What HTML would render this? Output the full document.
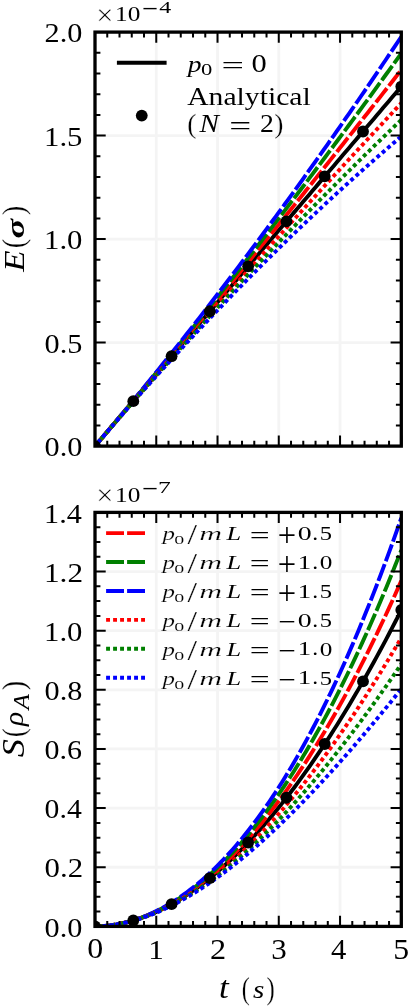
<!DOCTYPE html>
<html lang="en"><head><meta charset="utf-8"><title>Figure</title>
<style>html,body{margin:0;padding:0;background:#fff}svg{display:block}text{font-family:"Liberation Serif","DejaVu Serif",serif;fill:#000}.i{font-style:italic}.b{font-weight:bold}</style></head><body>
<svg width="411" height="1008" viewBox="0 0 411 1008">
<rect width="411" height="1008" fill="#fff"/>
<defs><clipPath id="c0"><rect x="95.0" y="32.1" width="306.3" height="414.0"/></clipPath><clipPath id="c1"><rect x="95.0" y="512.4" width="306.3" height="414.0"/></clipPath></defs>
<g id="axes0">
<g stroke="#f4f4f4" stroke-opacity="1" stroke-width="2.8" fill="none">
<path d="M95.00 32.1V446.1"/>
<path d="M156.26 32.1V446.1"/>
<path d="M217.52 32.1V446.1"/>
<path d="M278.78 32.1V446.1"/>
<path d="M340.04 32.1V446.1"/>
<path d="M401.30 32.1V446.1"/>
<path d="M95.0 446.10H401.3"/>
<path d="M95.0 342.60H401.3"/>
<path d="M95.0 239.10H401.3"/>
<path d="M95.0 135.60H401.3"/>
<path d="M95.0 32.10H401.3"/>
</g>
<g clip-path="url(#c0)" fill="none" stroke-width="3.9">
<path d="M95.00 446.10 L98.06 442.50 L101.13 438.91 L104.19 435.31 L107.25 431.72 L110.31 428.12 L113.38 424.53 L116.44 420.93 L119.50 417.34 L122.57 413.74 L125.63 410.14 L128.69 406.55 L131.76 402.95 L134.82 399.36 L137.88 395.76 L140.94 392.17 L144.01 388.57 L147.07 384.97 L150.13 381.38 L153.20 377.78 L156.26 374.19 L159.32 370.59 L162.39 367.00 L165.45 363.40 L168.51 359.81 L171.57 356.21 L174.64 352.61 L177.70 349.02 L180.76 345.42 L183.83 341.83 L186.89 338.23 L189.95 334.64 L193.02 331.04 L196.08 327.45 L199.14 323.85 L202.20 320.25 L205.27 316.66 L208.33 313.06 L211.39 309.47 L214.46 305.87 L217.52 302.28 L220.58 298.68 L223.65 295.09 L226.71 291.49 L229.77 287.89 L232.84 284.30 L235.90 280.70 L238.96 277.11 L242.02 273.51 L245.09 269.92 L248.15 266.32 L251.21 262.72 L254.28 259.13 L257.34 255.53 L260.40 251.94 L263.47 248.34 L266.53 244.75 L269.59 241.15 L272.65 237.56 L275.72 233.96 L278.78 230.36 L281.84 226.77 L284.91 223.17 L287.97 219.58 L291.03 215.98 L294.10 212.39 L297.16 208.79 L300.22 205.20 L303.28 201.60 L306.35 198.00 L309.41 194.41 L312.47 190.81 L315.54 187.22 L318.60 183.62 L321.66 180.03 L324.73 176.43 L327.79 172.84 L330.85 169.24 L333.91 165.64 L336.98 162.05 L340.04 158.45 L343.10 154.86 L346.17 151.26 L349.23 147.67 L352.29 144.07 L355.36 140.47 L358.42 136.88 L361.48 133.28 L364.54 129.69 L367.61 126.09 L370.67 122.50 L373.73 118.90 L376.80 115.31 L379.86 111.71 L382.92 108.11 L385.99 104.52 L389.05 100.92 L392.11 97.33 L395.17 93.73 L398.24 90.14 L401.30 86.54" stroke="#000" stroke-linecap="square"/>
<path d="M95.00 446.10 L98.06 442.50 L101.13 438.90 L104.19 435.30 L107.25 431.69 L110.31 428.08 L113.38 424.47 L116.44 420.85 L119.50 417.23 L122.57 413.60 L125.63 409.98 L128.69 406.35 L131.76 402.71 L134.82 399.08 L137.88 395.44 L140.94 391.79 L144.01 388.14 L147.07 384.49 L150.13 380.84 L153.20 377.18 L156.26 373.52 L159.32 369.86 L162.39 366.19 L165.45 362.52 L168.51 358.85 L171.57 355.17 L174.64 351.49 L177.70 347.81 L180.76 344.12 L183.83 340.43 L186.89 336.74 L189.95 333.04 L193.02 329.34 L196.08 325.63 L199.14 321.93 L202.20 318.22 L205.27 314.50 L208.33 310.79 L211.39 307.07 L214.46 303.34 L217.52 299.62 L220.58 295.89 L223.65 292.15 L226.71 288.41 L229.77 284.67 L232.84 280.93 L235.90 277.18 L238.96 273.43 L242.02 269.68 L245.09 265.92 L248.15 262.16 L251.21 258.40 L254.28 254.63 L257.34 250.86 L260.40 247.09 L263.47 243.31 L266.53 239.53 L269.59 235.75 L272.65 231.96 L275.72 228.17 L278.78 224.38 L281.84 220.58 L284.91 216.78 L287.97 212.98 L291.03 209.17 L294.10 205.36 L297.16 201.55 L300.22 197.73 L303.28 193.91 L306.35 190.09 L309.41 186.26 L312.47 182.43 L315.54 178.60 L318.60 174.76 L321.66 170.92 L324.73 167.08 L327.79 163.23 L330.85 159.38 L333.91 155.53 L336.98 151.67 L340.04 147.81 L343.10 143.95 L346.17 140.08 L349.23 136.21 L352.29 132.34 L355.36 128.46 L358.42 124.58 L361.48 120.70 L364.54 116.81 L367.61 112.92 L370.67 109.03 L373.73 105.13 L376.80 101.23 L379.86 97.33 L382.92 93.42 L385.99 89.51 L389.05 85.60 L392.11 81.68 L395.17 77.76 L398.24 73.84 L401.30 69.91" stroke="#ff0000" stroke-dasharray="17.9 3.1" stroke-dashoffset="18.1"/>
<path d="M95.00 446.10 L98.06 442.50 L101.13 438.90 L104.19 435.28 L107.25 431.66 L110.31 428.04 L113.38 424.41 L116.44 420.77 L119.50 417.12 L122.57 413.47 L125.63 409.81 L128.69 406.15 L131.76 402.47 L134.82 398.80 L137.88 395.11 L140.94 391.42 L144.01 387.72 L147.07 384.01 L150.13 380.30 L153.20 376.58 L156.26 372.86 L159.32 369.13 L162.39 365.39 L165.45 361.64 L168.51 357.89 L171.57 354.13 L174.64 350.37 L177.70 346.59 L180.76 342.82 L183.83 339.03 L186.89 335.24 L189.95 331.44 L193.02 327.64 L196.08 323.82 L199.14 320.01 L202.20 316.18 L205.27 312.35 L208.33 308.51 L211.39 304.66 L214.46 300.81 L217.52 296.95 L220.58 293.09 L223.65 289.22 L226.71 285.34 L229.77 281.45 L232.84 277.56 L235.90 273.67 L238.96 269.76 L242.02 265.85 L245.09 261.93 L248.15 258.01 L251.21 254.07 L254.28 250.14 L257.34 246.19 L260.40 242.24 L263.47 238.28 L266.53 234.32 L269.59 230.35 L272.65 226.37 L275.72 222.38 L278.78 218.39 L281.84 214.39 L284.91 210.39 L287.97 206.38 L291.03 202.36 L294.10 198.33 L297.16 194.30 L300.22 190.27 L303.28 186.22 L306.35 182.17 L309.41 178.11 L312.47 174.05 L315.54 169.98 L318.60 165.90 L321.66 161.81 L324.73 157.72 L327.79 153.62 L330.85 149.52 L333.91 145.41 L336.98 141.29 L340.04 137.17 L343.10 133.04 L346.17 128.90 L349.23 124.75 L352.29 120.60 L355.36 116.44 L358.42 112.28 L361.48 108.11 L364.54 103.93 L367.61 99.75 L370.67 95.56 L373.73 91.36 L376.80 87.15 L379.86 82.94 L382.92 78.73 L385.99 74.50 L389.05 70.27 L392.11 66.03 L395.17 61.79 L398.24 57.54 L401.30 53.28" stroke="#008000" stroke-dasharray="17.9 3.1" stroke-dashoffset="18.1"/>
<path d="M95.00 446.10 L98.06 442.50 L101.13 438.89 L104.19 435.27 L107.25 431.64 L110.31 428.00 L113.38 424.35 L116.44 420.69 L119.50 417.02 L122.57 413.34 L125.63 409.65 L128.69 405.94 L131.76 402.23 L134.82 398.51 L137.88 394.78 L140.94 391.04 L144.01 387.29 L147.07 383.53 L150.13 379.76 L153.20 375.98 L156.26 372.19 L159.32 368.39 L162.39 364.58 L165.45 360.76 L168.51 356.93 L171.57 353.09 L174.64 349.24 L177.70 345.38 L180.76 341.51 L183.83 337.63 L186.89 333.74 L189.95 329.84 L193.02 325.93 L196.08 322.01 L199.14 318.08 L202.20 314.14 L205.27 310.19 L208.33 306.23 L211.39 302.26 L214.46 298.28 L217.52 294.29 L220.58 290.29 L223.65 286.28 L226.71 282.27 L229.77 278.24 L232.84 274.20 L235.90 270.15 L238.96 266.09 L242.02 262.02 L245.09 257.94 L248.15 253.85 L251.21 249.75 L254.28 245.64 L257.34 241.52 L260.40 237.39 L263.47 233.25 L266.53 229.10 L269.59 224.94 L272.65 220.77 L275.72 216.59 L278.78 212.40 L281.84 208.21 L284.91 204.00 L287.97 199.78 L291.03 195.55 L294.10 191.31 L297.16 187.06 L300.22 182.80 L303.28 178.53 L306.35 174.25 L309.41 169.96 L312.47 165.66 L315.54 161.35 L318.60 157.04 L321.66 152.71 L324.73 148.37 L327.79 144.02 L330.85 139.66 L333.91 135.29 L336.98 130.91 L340.04 126.52 L343.10 122.12 L346.17 117.72 L349.23 113.30 L352.29 108.87 L355.36 104.43 L358.42 99.98 L361.48 95.52 L364.54 91.05 L367.61 86.57 L370.67 82.09 L373.73 77.59 L376.80 73.08 L379.86 68.56 L382.92 64.03 L385.99 59.49 L389.05 54.95 L392.11 50.39 L395.17 45.82 L398.24 41.24 L401.30 36.65" stroke="#0000ff" stroke-dasharray="17.9 3.1" stroke-dashoffset="10.35"/>
<path d="M95.00 446.10 L98.06 442.51 L101.13 438.92 L104.19 435.33 L107.25 431.74 L110.31 428.16 L113.38 424.59 L116.44 421.01 L119.50 417.44 L122.57 413.87 L125.63 410.31 L128.69 406.75 L131.76 403.19 L134.82 399.64 L137.88 396.09 L140.94 392.54 L144.01 389.00 L147.07 385.46 L150.13 381.92 L153.20 378.38 L156.26 374.85 L159.32 371.33 L162.39 367.80 L165.45 364.28 L168.51 360.76 L171.57 357.25 L174.64 353.74 L177.70 350.23 L180.76 346.73 L183.83 343.23 L186.89 339.73 L189.95 336.23 L193.02 332.74 L196.08 329.26 L199.14 325.77 L202.20 322.29 L205.27 318.81 L208.33 315.34 L211.39 311.87 L214.46 308.40 L217.52 304.94 L220.58 301.48 L223.65 298.02 L226.71 294.56 L229.77 291.11 L232.84 287.67 L235.90 284.22 L238.96 280.78 L242.02 277.34 L245.09 273.91 L248.15 270.48 L251.21 267.05 L254.28 263.63 L257.34 260.21 L260.40 256.79 L263.47 253.37 L266.53 249.96 L269.59 246.55 L272.65 243.15 L275.72 239.75 L278.78 236.35 L281.84 232.96 L284.91 229.57 L287.97 226.18 L291.03 222.79 L294.10 219.41 L297.16 216.04 L300.22 212.66 L303.28 209.29 L306.35 205.92 L309.41 202.56 L312.47 199.20 L315.54 195.84 L318.60 192.48 L321.66 189.13 L324.73 185.79 L327.79 182.44 L330.85 179.10 L333.91 175.76 L336.98 172.43 L340.04 169.10 L343.10 165.77 L346.17 162.44 L349.23 159.12 L352.29 155.80 L355.36 152.49 L358.42 149.18 L361.48 145.87 L364.54 142.57 L367.61 139.27 L370.67 135.97 L373.73 132.67 L376.80 129.38 L379.86 126.09 L382.92 122.81 L385.99 119.53 L389.05 116.25 L392.11 112.97 L395.17 109.70 L398.24 106.44 L401.30 103.17" stroke="#ff0000" stroke-dasharray="3.9 3.1" stroke-dashoffset="4.5"/>
<path d="M95.00 446.10 L98.06 442.51 L101.13 438.92 L104.19 435.34 L107.25 431.77 L110.31 428.21 L113.38 424.65 L116.44 421.09 L119.50 417.55 L122.57 414.01 L125.63 410.48 L128.69 406.95 L131.76 403.43 L134.82 399.92 L137.88 396.41 L140.94 392.91 L144.01 389.42 L147.07 385.94 L150.13 382.46 L153.20 378.98 L156.26 375.52 L159.32 372.06 L162.39 368.61 L165.45 365.16 L168.51 361.72 L171.57 358.29 L174.64 354.86 L177.70 351.44 L180.76 348.03 L183.83 344.63 L186.89 341.23 L189.95 337.83 L193.02 334.45 L196.08 331.07 L199.14 327.69 L202.20 324.33 L205.27 320.97 L208.33 317.62 L211.39 314.27 L214.46 310.93 L217.52 307.60 L220.58 304.27 L223.65 300.95 L226.71 297.64 L229.77 294.33 L232.84 291.03 L235.90 287.74 L238.96 284.45 L242.02 281.17 L245.09 277.90 L248.15 274.64 L251.21 271.38 L254.28 268.12 L257.34 264.88 L260.40 261.64 L263.47 258.40 L266.53 255.18 L269.59 251.96 L272.65 248.74 L275.72 245.54 L278.78 242.34 L281.84 239.14 L284.91 235.96 L287.97 232.78 L291.03 229.61 L294.10 226.44 L297.16 223.28 L300.22 220.13 L303.28 216.98 L306.35 213.84 L309.41 210.71 L312.47 207.58 L315.54 204.46 L318.60 201.35 L321.66 198.24 L324.73 195.14 L327.79 192.05 L330.85 188.96 L333.91 185.88 L336.98 182.81 L340.04 179.74 L343.10 176.68 L346.17 173.63 L349.23 170.58 L352.29 167.54 L355.36 164.51 L358.42 161.48 L361.48 158.46 L364.54 155.44 L367.61 152.44 L370.67 149.44 L373.73 146.44 L376.80 143.46 L379.86 140.48 L382.92 137.50 L385.99 134.54 L389.05 131.58 L392.11 128.62 L395.17 125.67 L398.24 122.73 L401.30 119.80" stroke="#008000" stroke-dasharray="3.9 3.1" stroke-dashoffset="4.25"/>
<path d="M95.00 446.10 L98.06 442.51 L101.13 438.93 L104.19 435.36 L107.25 431.80 L110.31 428.25 L113.38 424.71 L116.44 421.18 L119.50 417.65 L122.57 414.14 L125.63 410.64 L128.69 407.15 L131.76 403.67 L134.82 400.20 L137.88 396.74 L140.94 393.29 L144.01 389.85 L147.07 386.42 L150.13 383.00 L153.20 379.58 L156.26 376.18 L159.32 372.79 L162.39 369.41 L165.45 366.04 L168.51 362.68 L171.57 359.33 L174.64 355.99 L177.70 352.66 L180.76 349.33 L183.83 346.02 L186.89 342.72 L189.95 339.43 L193.02 336.15 L196.08 332.88 L199.14 329.62 L202.20 326.37 L205.27 323.12 L208.33 319.89 L211.39 316.67 L214.46 313.46 L217.52 310.26 L220.58 307.07 L223.65 303.89 L226.71 300.71 L229.77 297.55 L232.84 294.40 L235.90 291.26 L238.96 288.13 L242.02 285.01 L245.09 281.89 L248.15 278.79 L251.21 275.70 L254.28 272.62 L257.34 269.55 L260.40 266.49 L263.47 263.43 L266.53 260.39 L269.59 257.36 L272.65 254.34 L275.72 251.33 L278.78 248.32 L281.84 245.33 L284.91 242.35 L287.97 239.38 L291.03 236.42 L294.10 233.47 L297.16 230.52 L300.22 227.59 L303.28 224.67 L306.35 221.76 L309.41 218.85 L312.47 215.96 L315.54 213.08 L318.60 210.21 L321.66 207.35 L324.73 204.49 L327.79 201.65 L330.85 198.82 L333.91 196.00 L336.98 193.18 L340.04 190.38 L343.10 187.59 L346.17 184.81 L349.23 182.03 L352.29 179.27 L355.36 176.52 L358.42 173.78 L361.48 171.05 L364.54 168.32 L367.61 165.61 L370.67 162.91 L373.73 160.21 L376.80 157.53 L379.86 154.86 L382.92 152.20 L385.99 149.54 L389.05 146.90 L392.11 144.27 L395.17 141.65 L398.24 139.03 L401.30 136.43" stroke="#0000ff" stroke-dasharray="3.9 3.1" stroke-dashoffset="2.35"/>
<circle cx="95.00" cy="446.10" r="5.9" fill="#000" stroke="none"/>
<circle cx="133.29" cy="401.16" r="5.9" fill="#000" stroke="none"/>
<circle cx="171.57" cy="356.21" r="5.9" fill="#000" stroke="none"/>
<circle cx="209.86" cy="311.27" r="5.9" fill="#000" stroke="none"/>
<circle cx="248.15" cy="266.32" r="5.9" fill="#000" stroke="none"/>
<circle cx="286.44" cy="221.38" r="5.9" fill="#000" stroke="none"/>
<circle cx="324.73" cy="176.43" r="5.9" fill="#000" stroke="none"/>
<circle cx="363.01" cy="131.49" r="5.9" fill="#000" stroke="none"/>
<circle cx="401.30" cy="86.54" r="5.9" fill="#000" stroke="none"/>
</g>
<g stroke="#000" stroke-width="2.0" fill="none">
<path d="M95.00 446.1v-10.7M95.00 32.1v10.7"/>
<path d="M107.25 446.1v-5.4M107.25 32.1v5.4"/>
<path d="M119.50 446.1v-5.4M119.50 32.1v5.4"/>
<path d="M131.76 446.1v-5.4M131.76 32.1v5.4"/>
<path d="M144.01 446.1v-5.4M144.01 32.1v5.4"/>
<path d="M156.26 446.1v-10.7M156.26 32.1v10.7"/>
<path d="M168.51 446.1v-5.4M168.51 32.1v5.4"/>
<path d="M180.76 446.1v-5.4M180.76 32.1v5.4"/>
<path d="M193.02 446.1v-5.4M193.02 32.1v5.4"/>
<path d="M205.27 446.1v-5.4M205.27 32.1v5.4"/>
<path d="M217.52 446.1v-10.7M217.52 32.1v10.7"/>
<path d="M229.77 446.1v-5.4M229.77 32.1v5.4"/>
<path d="M242.02 446.1v-5.4M242.02 32.1v5.4"/>
<path d="M254.28 446.1v-5.4M254.28 32.1v5.4"/>
<path d="M266.53 446.1v-5.4M266.53 32.1v5.4"/>
<path d="M278.78 446.1v-10.7M278.78 32.1v10.7"/>
<path d="M291.03 446.1v-5.4M291.03 32.1v5.4"/>
<path d="M303.28 446.1v-5.4M303.28 32.1v5.4"/>
<path d="M315.54 446.1v-5.4M315.54 32.1v5.4"/>
<path d="M327.79 446.1v-5.4M327.79 32.1v5.4"/>
<path d="M340.04 446.1v-10.7M340.04 32.1v10.7"/>
<path d="M352.29 446.1v-5.4M352.29 32.1v5.4"/>
<path d="M364.54 446.1v-5.4M364.54 32.1v5.4"/>
<path d="M376.80 446.1v-5.4M376.80 32.1v5.4"/>
<path d="M389.05 446.1v-5.4M389.05 32.1v5.4"/>
<path d="M401.30 446.1v-10.7M401.30 32.1v10.7"/>
<path d="M95.0 446.10h10.7M401.3 446.10h-10.7"/>
<path d="M95.0 425.40h5.4M401.3 425.40h-5.4"/>
<path d="M95.0 404.70h5.4M401.3 404.70h-5.4"/>
<path d="M95.0 384.00h5.4M401.3 384.00h-5.4"/>
<path d="M95.0 363.30h5.4M401.3 363.30h-5.4"/>
<path d="M95.0 342.60h10.7M401.3 342.60h-10.7"/>
<path d="M95.0 321.90h5.4M401.3 321.90h-5.4"/>
<path d="M95.0 301.20h5.4M401.3 301.20h-5.4"/>
<path d="M95.0 280.50h5.4M401.3 280.50h-5.4"/>
<path d="M95.0 259.80h5.4M401.3 259.80h-5.4"/>
<path d="M95.0 239.10h10.7M401.3 239.10h-10.7"/>
<path d="M95.0 218.40h5.4M401.3 218.40h-5.4"/>
<path d="M95.0 197.70h5.4M401.3 197.70h-5.4"/>
<path d="M95.0 177.00h5.4M401.3 177.00h-5.4"/>
<path d="M95.0 156.30h5.4M401.3 156.30h-5.4"/>
<path d="M95.0 135.60h10.7M401.3 135.60h-10.7"/>
<path d="M95.0 114.90h5.4M401.3 114.90h-5.4"/>
<path d="M95.0 94.20h5.4M401.3 94.20h-5.4"/>
<path d="M95.0 73.50h5.4M401.3 73.50h-5.4"/>
<path d="M95.0 52.80h5.4M401.3 52.80h-5.4"/>
<path d="M95.0 32.10h10.7M401.3 32.10h-10.7"/>
</g>
<rect x="95.0" y="32.1" width="306.3" height="414.0" fill="none" stroke="#000" stroke-width="3.3"/>
</g>
<g id="axes1">
<g stroke="#f4f4f4" stroke-opacity="1" stroke-width="2.8" fill="none">
<path d="M95.00 512.4V926.4"/>
<path d="M156.26 512.4V926.4"/>
<path d="M217.52 512.4V926.4"/>
<path d="M278.78 512.4V926.4"/>
<path d="M340.04 512.4V926.4"/>
<path d="M401.30 512.4V926.4"/>
<path d="M95.0 926.40H401.3"/>
<path d="M95.0 867.26H401.3"/>
<path d="M95.0 808.11H401.3"/>
<path d="M95.0 748.97H401.3"/>
<path d="M95.0 689.83H401.3"/>
<path d="M95.0 630.69H401.3"/>
<path d="M95.0 571.54H401.3"/>
<path d="M95.0 512.40H401.3"/>
</g>
<g clip-path="url(#c1)" fill="none" stroke-width="3.9">
<path d="M95.00 926.40 L98.06 926.35 L101.13 926.22 L104.19 926.02 L107.25 925.73 L110.31 925.38 L113.38 924.95 L116.44 924.46 L119.50 923.89 L122.57 923.25 L125.63 922.55 L128.69 921.78 L131.76 920.94 L134.82 920.04 L137.88 919.07 L140.94 918.03 L144.01 916.93 L147.07 915.77 L150.13 914.54 L153.20 913.25 L156.26 911.89 L159.32 910.47 L162.39 908.98 L165.45 907.43 L168.51 905.82 L171.57 904.15 L174.64 902.42 L177.70 900.62 L180.76 898.76 L183.83 896.84 L186.89 894.85 L189.95 892.81 L193.02 890.70 L196.08 888.54 L199.14 886.31 L202.20 884.02 L205.27 881.67 L208.33 879.26 L211.39 876.79 L214.46 874.26 L217.52 871.67 L220.58 869.02 L223.65 866.31 L226.71 863.54 L229.77 860.71 L232.84 857.83 L235.90 854.88 L238.96 851.87 L242.02 848.81 L245.09 845.68 L248.15 842.50 L251.21 839.25 L254.28 835.95 L257.34 832.59 L260.40 829.17 L263.47 825.70 L266.53 822.16 L269.59 818.57 L272.65 814.91 L275.72 811.20 L278.78 807.44 L281.84 803.61 L284.91 799.73 L287.97 795.78 L291.03 791.79 L294.10 787.73 L297.16 783.61 L300.22 779.44 L303.28 775.21 L306.35 770.93 L309.41 766.58 L312.47 762.18 L315.54 757.73 L318.60 753.21 L321.66 748.64 L324.73 744.01 L327.79 739.33 L330.85 734.58 L333.91 729.78 L336.98 724.93 L340.04 720.02 L343.10 715.05 L346.17 710.02 L349.23 704.94 L352.29 699.80 L355.36 694.61 L358.42 689.36 L361.48 684.05 L364.54 678.69 L367.61 673.27 L370.67 667.80 L373.73 662.27 L376.80 656.68 L379.86 651.04 L382.92 645.34 L385.99 639.59 L389.05 633.78 L392.11 627.91 L395.17 621.99 L398.24 616.02 L401.30 609.99" stroke="#000" stroke-linecap="square"/>
<path d="M95.00 926.40 L98.06 926.35 L101.13 926.22 L104.19 926.02 L107.25 925.73 L110.31 925.37 L113.38 924.95 L116.44 924.44 L119.50 923.87 L122.57 923.23 L125.63 922.52 L128.69 921.74 L131.76 920.88 L134.82 919.97 L137.88 918.98 L140.94 917.92 L144.01 916.80 L147.07 915.61 L150.13 914.35 L153.20 913.02 L156.26 911.63 L159.32 910.16 L162.39 908.64 L165.45 907.04 L168.51 905.38 L171.57 903.65 L174.64 901.85 L177.70 899.99 L180.76 898.06 L183.83 896.06 L186.89 894.00 L189.95 891.86 L193.02 889.67 L196.08 887.40 L199.14 885.07 L202.20 882.67 L205.27 880.21 L208.33 877.68 L211.39 875.08 L214.46 872.41 L217.52 869.68 L220.58 866.88 L223.65 864.02 L226.71 861.08 L229.77 858.08 L232.84 855.02 L235.90 851.88 L238.96 848.68 L242.02 845.41 L245.09 842.07 L248.15 838.67 L251.21 835.20 L254.28 831.66 L257.34 828.05 L260.40 824.38 L263.47 820.64 L266.53 816.83 L269.59 812.95 L272.65 809.01 L275.72 804.99 L278.78 800.91 L281.84 796.76 L284.91 792.54 L287.97 788.26 L291.03 783.90 L294.10 779.48 L297.16 774.99 L300.22 770.43 L303.28 765.80 L306.35 761.10 L309.41 756.33 L312.47 751.50 L315.54 746.59 L318.60 741.62 L321.66 736.57 L324.73 731.46 L327.79 726.28 L330.85 721.02 L333.91 715.70 L336.98 710.31 L340.04 704.85 L343.10 699.32 L346.17 693.71 L349.23 688.04 L352.29 682.30 L355.36 676.49 L358.42 670.60 L361.48 664.65 L364.54 658.62 L367.61 652.53 L370.67 646.36 L373.73 640.12 L376.80 633.82 L379.86 627.44 L382.92 620.98 L385.99 614.46 L389.05 607.87 L392.11 601.20 L395.17 594.46 L398.24 587.65 L401.30 580.77" stroke="#ff0000" stroke-dasharray="17.9 3.1" stroke-dashoffset="18.35"/>
<path d="M95.00 926.40 L98.06 926.35 L101.13 926.22 L104.19 926.01 L107.25 925.73 L110.31 925.37 L113.38 924.94 L116.44 924.43 L119.50 923.85 L122.57 923.20 L125.63 922.48 L128.69 921.69 L131.76 920.83 L134.82 919.89 L137.88 918.88 L140.94 917.81 L144.01 916.66 L147.07 915.44 L150.13 914.15 L153.20 912.79 L156.26 911.36 L159.32 909.86 L162.39 908.28 L165.45 906.64 L168.51 904.92 L171.57 903.14 L174.64 901.28 L177.70 899.35 L180.76 897.34 L183.83 895.27 L186.89 893.12 L189.95 890.90 L193.02 888.61 L196.08 886.25 L199.14 883.81 L202.20 881.30 L205.27 878.72 L208.33 876.06 L211.39 873.33 L214.46 870.53 L217.52 867.65 L220.58 864.70 L223.65 861.67 L226.71 858.57 L229.77 855.39 L232.84 852.14 L235.90 848.81 L238.96 845.41 L242.02 841.93 L245.09 838.38 L248.15 834.75 L251.21 831.04 L254.28 827.26 L257.34 823.40 L260.40 819.46 L263.47 815.44 L266.53 811.35 L269.59 807.18 L272.65 802.93 L275.72 798.60 L278.78 794.19 L281.84 789.70 L284.91 785.14 L287.97 780.49 L291.03 775.77 L294.10 770.96 L297.16 766.07 L300.22 761.11 L303.28 756.06 L306.35 750.93 L309.41 745.72 L312.47 740.43 L315.54 735.06 L318.60 729.60 L321.66 724.06 L324.73 718.44 L327.79 712.73 L330.85 706.94 L333.91 701.07 L336.98 695.12 L340.04 689.08 L343.10 682.95 L346.17 676.74 L349.23 670.44 L352.29 664.06 L355.36 657.60 L358.42 651.05 L361.48 644.41 L364.54 637.68 L367.61 630.87 L370.67 623.97 L373.73 616.98 L376.80 609.91 L379.86 602.74 L382.92 595.49 L385.99 588.15 L389.05 580.72 L392.11 573.20 L395.17 565.60 L398.24 557.90 L401.30 550.11" stroke="#008000" stroke-dasharray="17.9 3.1" stroke-dashoffset="19.05"/>
<path d="M95.00 926.40 L98.06 926.35 L101.13 926.22 L104.19 926.01 L107.25 925.73 L110.31 925.37 L113.38 924.93 L116.44 924.42 L119.50 923.84 L122.57 923.18 L125.63 922.45 L128.69 921.64 L131.76 920.77 L134.82 919.81 L137.88 918.79 L140.94 917.69 L144.01 916.52 L147.07 915.27 L150.13 913.95 L153.20 912.56 L156.26 911.09 L159.32 909.55 L162.39 907.93 L165.45 906.24 L168.51 904.47 L171.57 902.62 L174.64 900.70 L177.70 898.70 L180.76 896.62 L183.83 894.47 L186.89 892.24 L189.95 889.93 L193.02 887.54 L196.08 885.08 L199.14 882.53 L202.20 879.91 L205.27 877.20 L208.33 874.42 L211.39 871.55 L214.46 868.61 L217.52 865.58 L220.58 862.47 L223.65 859.28 L226.71 856.00 L229.77 852.65 L232.84 849.20 L235.90 845.68 L238.96 842.07 L242.02 838.38 L245.09 834.60 L248.15 830.73 L251.21 826.78 L254.28 822.74 L257.34 818.62 L260.40 814.41 L263.47 810.11 L266.53 805.72 L269.59 801.24 L272.65 796.67 L275.72 792.02 L278.78 787.27 L281.84 782.44 L284.91 777.51 L287.97 772.49 L291.03 767.38 L294.10 762.17 L297.16 756.88 L300.22 751.49 L303.28 746.00 L306.35 740.43 L309.41 734.75 L312.47 728.98 L315.54 723.12 L318.60 717.16 L321.66 711.10 L324.73 704.95 L327.79 698.70 L330.85 692.35 L333.91 685.90 L336.98 679.35 L340.04 672.70 L343.10 665.95 L346.17 659.10 L349.23 652.15 L352.29 645.10 L355.36 637.94 L358.42 630.69 L361.48 623.33 L364.54 615.86 L367.61 608.29 L370.67 600.62 L373.73 592.84 L376.80 584.95 L379.86 576.96 L382.92 568.87 L385.99 560.66 L389.05 552.35 L392.11 543.92 L395.17 535.39 L398.24 526.75 L401.30 518.00" stroke="#0000ff" stroke-dasharray="17.9 3.1" stroke-dashoffset="13.55"/>
<path d="M95.00 926.40 L98.06 926.35 L101.13 926.22 L104.19 926.02 L107.25 925.74 L110.31 925.38 L113.38 924.96 L116.44 924.47 L119.50 923.91 L122.57 923.28 L125.63 922.59 L128.69 921.83 L131.76 921.00 L134.82 920.11 L137.88 919.16 L140.94 918.15 L144.01 917.07 L147.07 915.93 L150.13 914.73 L153.20 913.47 L156.26 912.15 L159.32 910.77 L162.39 909.33 L165.45 907.82 L168.51 906.27 L171.57 904.65 L174.64 902.97 L177.70 901.24 L180.76 899.45 L183.83 897.60 L186.89 895.70 L189.95 893.74 L193.02 891.72 L196.08 889.65 L199.14 887.53 L202.20 885.35 L205.27 883.11 L208.33 880.82 L211.39 878.47 L214.46 876.08 L217.52 873.62 L220.58 871.12 L223.65 868.56 L226.71 865.95 L229.77 863.29 L232.84 860.57 L235.90 857.81 L238.96 854.99 L242.02 852.12 L245.09 849.20 L248.15 846.23 L251.21 843.20 L254.28 840.13 L257.34 837.01 L260.40 833.84 L263.47 830.61 L266.53 827.34 L269.59 824.02 L272.65 820.65 L275.72 817.23 L278.78 813.77 L281.84 810.25 L284.91 806.69 L287.97 803.08 L291.03 799.42 L294.10 795.71 L297.16 791.96 L300.22 788.16 L303.28 784.31 L306.35 780.42 L309.41 776.48 L312.47 772.49 L315.54 768.46 L318.60 764.38 L321.66 760.26 L324.73 756.09 L327.79 751.88 L330.85 747.62 L333.91 743.32 L336.98 738.97 L340.04 734.58 L343.10 730.15 L346.17 725.67 L349.23 721.15 L352.29 716.58 L355.36 711.97 L358.42 707.32 L361.48 702.62 L364.54 697.88 L367.61 693.10 L370.67 688.28 L373.73 683.41 L376.80 678.50 L379.86 673.56 L382.92 668.56 L385.99 663.53 L389.05 658.46 L392.11 653.34 L395.17 648.19 L398.24 642.99 L401.30 637.75" stroke="#ff0000" stroke-dasharray="3.9 3.1" stroke-dashoffset="4.85"/>
<path d="M95.00 926.40 L98.06 926.35 L101.13 926.22 L104.19 926.02 L107.25 925.74 L110.31 925.39 L113.38 924.97 L116.44 924.48 L119.50 923.93 L122.57 923.31 L125.63 922.62 L128.69 921.87 L131.76 921.06 L134.82 920.19 L137.88 919.25 L140.94 918.26 L144.01 917.20 L147.07 916.09 L150.13 914.92 L153.20 913.69 L156.26 912.41 L159.32 911.06 L162.39 909.66 L165.45 908.21 L168.51 906.70 L171.57 905.14 L174.64 903.52 L177.70 901.85 L180.76 900.13 L183.83 898.36 L186.89 896.53 L189.95 894.66 L193.02 892.73 L196.08 890.75 L199.14 888.72 L202.20 886.65 L205.27 884.52 L208.33 882.34 L211.39 880.12 L214.46 877.85 L217.52 875.54 L220.58 873.17 L223.65 870.76 L226.71 868.31 L229.77 865.80 L232.84 863.26 L235.90 860.67 L238.96 858.03 L242.02 855.35 L245.09 852.63 L248.15 849.86 L251.21 847.05 L254.28 844.20 L257.34 841.30 L260.40 838.37 L263.47 835.39 L266.53 832.37 L269.59 829.32 L272.65 826.22 L275.72 823.08 L278.78 819.90 L281.84 816.68 L284.91 813.43 L287.97 810.13 L291.03 806.80 L294.10 803.43 L297.16 800.02 L300.22 796.57 L303.28 793.09 L306.35 789.57 L309.41 786.02 L312.47 782.42 L315.54 778.80 L318.60 775.14 L321.66 771.44 L324.73 767.71 L327.79 763.94 L330.85 760.14 L333.91 756.31 L336.98 752.44 L340.04 748.54 L343.10 744.61 L346.17 740.65 L349.23 736.65 L352.29 732.62 L355.36 728.56 L358.42 724.47 L361.48 720.35 L364.54 716.20 L367.61 712.01 L370.67 707.80 L373.73 703.56 L376.80 699.28 L379.86 694.98 L382.92 690.65 L385.99 686.29 L389.05 681.91 L392.11 677.49 L395.17 673.05 L398.24 668.58 L401.30 664.08" stroke="#008000" stroke-dasharray="3.9 3.1" stroke-dashoffset="4.85"/>
<path d="M95.00 926.40 L98.06 926.35 L101.13 926.22 L104.19 926.02 L107.25 925.74 L110.31 925.39 L113.38 924.98 L116.44 924.49 L119.50 923.94 L122.57 923.33 L125.63 922.65 L128.69 921.92 L131.76 921.12 L134.82 920.26 L137.88 919.34 L140.94 918.37 L144.01 917.34 L147.07 916.25 L150.13 915.11 L153.20 913.91 L156.26 912.66 L159.32 911.36 L162.39 910.00 L165.45 908.59 L168.51 907.13 L171.57 905.62 L174.64 904.07 L177.70 902.46 L180.76 900.80 L183.83 899.10 L186.89 897.35 L189.95 895.56 L193.02 893.71 L196.08 891.83 L199.14 889.90 L202.20 887.92 L205.27 885.90 L208.33 883.84 L211.39 881.74 L214.46 879.59 L217.52 877.41 L220.58 875.18 L223.65 872.91 L226.71 870.61 L229.77 868.26 L232.84 865.88 L235.90 863.45 L238.96 861.00 L242.02 858.50 L245.09 855.97 L248.15 853.40 L251.21 850.79 L254.28 848.15 L257.34 845.48 L260.40 842.77 L263.47 840.03 L266.53 837.26 L269.59 834.45 L272.65 831.61 L275.72 828.74 L278.78 825.84 L281.84 822.90 L284.91 819.94 L287.97 816.95 L291.03 813.93 L294.10 810.87 L297.16 807.79 L300.22 804.68 L303.28 801.55 L306.35 798.39 L309.41 795.19 L312.47 791.98 L315.54 788.74 L318.60 785.47 L321.66 782.17 L324.73 778.85 L327.79 775.51 L330.85 772.14 L333.91 768.75 L336.98 765.34 L340.04 761.90 L343.10 758.44 L346.17 754.96 L349.23 751.46 L352.29 747.94 L355.36 744.39 L358.42 740.82 L361.48 737.24 L364.54 733.63 L367.61 730.01 L370.67 726.36 L373.73 722.70 L376.80 719.02 L379.86 715.32 L382.92 711.60 L385.99 707.87 L389.05 704.12 L392.11 700.35 L395.17 696.57 L398.24 692.77 L401.30 688.95" stroke="#0000ff" stroke-dasharray="3.9 3.1" stroke-dashoffset="5.65"/>
<circle cx="95.00" cy="926.40" r="5.9" fill="#000" stroke="none"/>
<circle cx="133.29" cy="920.50" r="5.9" fill="#000" stroke="none"/>
<circle cx="171.57" cy="904.15" r="5.9" fill="#000" stroke="none"/>
<circle cx="209.86" cy="878.04" r="5.9" fill="#000" stroke="none"/>
<circle cx="248.15" cy="842.50" r="5.9" fill="#000" stroke="none"/>
<circle cx="286.44" cy="797.76" r="5.9" fill="#000" stroke="none"/>
<circle cx="324.73" cy="744.01" r="5.9" fill="#000" stroke="none"/>
<circle cx="363.01" cy="681.38" r="5.9" fill="#000" stroke="none"/>
<circle cx="401.30" cy="609.99" r="5.9" fill="#000" stroke="none"/>
</g>
<g stroke="#000" stroke-width="2.0" fill="none">
<path d="M95.00 926.4v-10.7M95.00 512.4v10.7"/>
<path d="M107.25 926.4v-5.4M107.25 512.4v5.4"/>
<path d="M119.50 926.4v-5.4M119.50 512.4v5.4"/>
<path d="M131.76 926.4v-5.4M131.76 512.4v5.4"/>
<path d="M144.01 926.4v-5.4M144.01 512.4v5.4"/>
<path d="M156.26 926.4v-10.7M156.26 512.4v10.7"/>
<path d="M168.51 926.4v-5.4M168.51 512.4v5.4"/>
<path d="M180.76 926.4v-5.4M180.76 512.4v5.4"/>
<path d="M193.02 926.4v-5.4M193.02 512.4v5.4"/>
<path d="M205.27 926.4v-5.4M205.27 512.4v5.4"/>
<path d="M217.52 926.4v-10.7M217.52 512.4v10.7"/>
<path d="M229.77 926.4v-5.4M229.77 512.4v5.4"/>
<path d="M242.02 926.4v-5.4M242.02 512.4v5.4"/>
<path d="M254.28 926.4v-5.4M254.28 512.4v5.4"/>
<path d="M266.53 926.4v-5.4M266.53 512.4v5.4"/>
<path d="M278.78 926.4v-10.7M278.78 512.4v10.7"/>
<path d="M291.03 926.4v-5.4M291.03 512.4v5.4"/>
<path d="M303.28 926.4v-5.4M303.28 512.4v5.4"/>
<path d="M315.54 926.4v-5.4M315.54 512.4v5.4"/>
<path d="M327.79 926.4v-5.4M327.79 512.4v5.4"/>
<path d="M340.04 926.4v-10.7M340.04 512.4v10.7"/>
<path d="M352.29 926.4v-5.4M352.29 512.4v5.4"/>
<path d="M364.54 926.4v-5.4M364.54 512.4v5.4"/>
<path d="M376.80 926.4v-5.4M376.80 512.4v5.4"/>
<path d="M389.05 926.4v-5.4M389.05 512.4v5.4"/>
<path d="M401.30 926.4v-10.7M401.30 512.4v10.7"/>
<path d="M95.0 926.40h10.7M401.3 926.40h-10.7"/>
<path d="M95.0 911.61h5.4M401.3 911.61h-5.4"/>
<path d="M95.0 896.83h5.4M401.3 896.83h-5.4"/>
<path d="M95.0 882.04h5.4M401.3 882.04h-5.4"/>
<path d="M95.0 867.26h10.7M401.3 867.26h-10.7"/>
<path d="M95.0 852.47h5.4M401.3 852.47h-5.4"/>
<path d="M95.0 837.69h5.4M401.3 837.69h-5.4"/>
<path d="M95.0 822.90h5.4M401.3 822.90h-5.4"/>
<path d="M95.0 808.11h10.7M401.3 808.11h-10.7"/>
<path d="M95.0 793.33h5.4M401.3 793.33h-5.4"/>
<path d="M95.0 778.54h5.4M401.3 778.54h-5.4"/>
<path d="M95.0 763.76h5.4M401.3 763.76h-5.4"/>
<path d="M95.0 748.97h10.7M401.3 748.97h-10.7"/>
<path d="M95.0 734.19h5.4M401.3 734.19h-5.4"/>
<path d="M95.0 719.40h5.4M401.3 719.40h-5.4"/>
<path d="M95.0 704.61h5.4M401.3 704.61h-5.4"/>
<path d="M95.0 689.83h10.7M401.3 689.83h-10.7"/>
<path d="M95.0 675.04h5.4M401.3 675.04h-5.4"/>
<path d="M95.0 660.26h5.4M401.3 660.26h-5.4"/>
<path d="M95.0 645.47h5.4M401.3 645.47h-5.4"/>
<path d="M95.0 630.69h10.7M401.3 630.69h-10.7"/>
<path d="M95.0 615.90h5.4M401.3 615.90h-5.4"/>
<path d="M95.0 601.11h5.4M401.3 601.11h-5.4"/>
<path d="M95.0 586.33h5.4M401.3 586.33h-5.4"/>
<path d="M95.0 571.54h10.7M401.3 571.54h-10.7"/>
<path d="M95.0 556.76h5.4M401.3 556.76h-5.4"/>
<path d="M95.0 541.97h5.4M401.3 541.97h-5.4"/>
<path d="M95.0 527.19h5.4M401.3 527.19h-5.4"/>
<path d="M95.0 512.40h10.7M401.3 512.40h-10.7"/>
</g>
<rect x="95.0" y="512.4" width="306.3" height="414.0" fill="none" stroke="#000" stroke-width="3.3"/>
</g>
<g id="legend-handles" fill="none">
<path d="M116.9 62.8H166.6" stroke="#000" stroke-width="3.9"/>
<circle cx="141.75" cy="115.6" r="5.9" fill="#000"/>
<path d="M106.1 533.10H145.3" stroke="#ff0000" stroke-width="3.9" stroke-dasharray="17.9 3.1"/>
<path d="M106.1 562.02H145.3" stroke="#008000" stroke-width="3.9" stroke-dasharray="17.9 3.1"/>
<path d="M106.1 590.94H145.3" stroke="#0000ff" stroke-width="3.9" stroke-dasharray="17.9 3.1"/>
<path d="M106.1 619.86H145.3" stroke="#ff0000" stroke-width="3.9" stroke-dasharray="3.9 3.1"/>
<path d="M106.1 648.78H145.3" stroke="#008000" stroke-width="3.9" stroke-dasharray="3.9 3.1"/>
<path d="M106.1 677.70H145.3" stroke="#0000ff" stroke-width="3.9" stroke-dasharray="3.9 3.1"/>
</g>
<g id="labels">
<g><text font-size="27.91" transform="translate(44.59 456.24) scale(1.0841 1)">0.0</text></g>
<g><text font-size="27.91" transform="translate(44.59 352.74) scale(1.0841 1)">0.5</text></g>
<g><text font-size="27.50" transform="translate(44.04 249.25) scale(1.1169 1)">1.0</text></g>
<g><text font-size="27.91" transform="translate(44.04 146.02) scale(1.1005 1)">1.5</text></g>
<g><text font-size="27.91" transform="translate(44.59 42.24) scale(1.0841 1)">2.0</text></g>
<g><text font-size="27.91" transform="translate(44.59 936.54) scale(1.0841 1)">0.0</text></g>
<g><text font-size="27.91" transform="translate(44.57 877.40) scale(1.1029 1)">0.2</text></g>
<g><text font-size="27.91" transform="translate(44.61 818.26) scale(1.0658 1)">0.4</text></g>
<g><text font-size="27.91" transform="translate(44.60 759.11) scale(1.0749 1)">0.6</text></g>
<g><text font-size="27.91" transform="translate(44.59 699.97) scale(1.0841 1)">0.8</text></g>
<g><text font-size="27.50" transform="translate(44.04 640.84) scale(1.1169 1)">1.0</text></g>
<g><text font-size="27.91" transform="translate(43.99 581.96) scale(1.1205 1)">1.2</text></g>
<g><text font-size="27.91" transform="translate(44.08 522.82) scale(1.0812 1)">1.4</text></g>
<g><text font-size="28.66" transform="translate(87.32 958.43) scale(1.1133 1)">0</text></g>
<g><text font-size="28.33" transform="translate(148.31 958.50) scale(1.0992 1)">1</text></g>
<g><text font-size="28.77" transform="translate(210.08 958.50) scale(1.1210 1)">2</text></g>
<g><text font-size="29.09" transform="translate(271.18 958.71) scale(1.0648 1)">3</text></g>
<g><text font-size="28.77" transform="translate(331.08 958.50) scale(1.0654 1)">4</text></g>
<g><text font-size="29.09" transform="translate(393.34 958.71) scale(1.0914 1)">5</text></g>
<g><text class="i" font-size="31.93" transform="translate(219.10 998.18) scale(1.0962 1)">t </text><text stroke="#fff" stroke-width="0.25" font-size="31.44" transform="translate(241.73 998.80) scale(0.7706 1)">(</text><text class="i" font-size="26.25" transform="translate(252.91 998.24) scale(1.1102 1)">s</text><text stroke="#fff" stroke-width="0.25" font-size="31.44" transform="translate(266.46 998.80) scale(0.7828 1)">)</text></g>
<g><text stroke="#fff" stroke-width="0.35" font-size="29.00" transform="translate(96.36 25.17) scale(1.0517 1)">×</text><text font-size="21.62" transform="translate(115.02 21.27) scale(1.1698 1)">10</text><text font-size="28.30" transform="translate(142.29 17.78) scale(1.0000 1)">−</text><text font-size="17.38" transform="translate(159.32 12.90) scale(1.3755 1)">4</text></g>
<g><text stroke="#fff" stroke-width="0.35" font-size="29.00" transform="translate(96.36 505.47) scale(1.0517 1)">×</text><text font-size="21.62" transform="translate(115.02 501.57) scale(1.1698 1)">10</text><text font-size="28.30" transform="translate(142.29 498.08) scale(1.0000 1)">−</text><text font-size="17.38" transform="translate(158.02 493.20) scale(1.4668 1)">7</text></g>
<g transform="translate(24 272) rotate(-90)"><text class="i" font-size="30.46" transform="translate(0.35 0.00) scale(1.1490 1)">E</text><text stroke="#fff" stroke-width="0.25" font-size="31.78" transform="translate(23.78 0.23) scale(0.8835 1)">(</text><text class="i b" font-size="26.04" transform="translate(33.50 -0.26) scale(1.4058 1)">σ</text><text stroke="#fff" stroke-width="0.25" font-size="31.78" transform="translate(56.63 0.23) scale(0.9077 1)">)</text></g>
<g transform="translate(24 756.8) rotate(-90)"><text class="i" font-size="30.75" transform="translate(-0.36 -0.31) scale(1.1833 1)">S</text><text stroke="#fff" stroke-width="0.25" font-size="31.78" transform="translate(19.61 0.23) scale(0.8593 1)">(</text><text class="i" font-size="27.21" transform="translate(30.79 -0.51) scale(1.0792 1)">ρ</text><text class="i" font-size="22.77" transform="translate(47.27 4.63) scale(1.1179 1)">A</text><text stroke="#fff" stroke-width="0.25" font-size="31.78" transform="translate(66.55 0.23) scale(0.8956 1)">)</text></g>
<g><text class="i" font-size="23.68" transform="translate(187.75 71.53) scale(1.1635 1)">p</text><text font-size="17.31" transform="translate(201.00 75.35) scale(1.3064 1)">0 </text><text font-size="26.00" transform="translate(221.61 73.86) scale(1.5303 1)">= </text><text font-size="25.07" transform="translate(251.38 71.60) scale(1.2154 1)">0</text></g>
<g><text font-size="24.78" transform="translate(187.20 105.10) scale(1.1971 1)">Analytical</text></g>
<g><text stroke="#fff" stroke-width="0.25" font-size="27.56" transform="translate(187.19 132.61) scale(1.0050 1)">(</text><text class="i" font-size="26.00" transform="translate(199.59 132.30) scale(1.1218 1)">N </text><text font-size="28.00" transform="translate(229.25 135.48) scale(1.3906 1)">= </text><text font-size="25.54" transform="translate(259.89 132.20) scale(1.0866 1)">2</text><text stroke="#fff" stroke-width="0.25" font-size="27.56" transform="translate(274.17 132.61) scale(1.0050 1)">)</text></g>
<g><text class="i" stroke="#fff" stroke-width="0.15" font-size="17.94" transform="translate(162.59 540.03) scale(1.3882 1)">p</text><text stroke="#fff" stroke-width="0.10" font-size="13.28" transform="translate(174.30 544.43) scale(1.5056 1)">0</text><text stroke="#fff" stroke-width="0.15" font-size="29.09" transform="translate(187.40 544.41) scale(1.1786 1)">/</text><text class="i" stroke="#fff" stroke-width="0.20" font-size="17.87" transform="translate(199.24 540.00) scale(1.7660 1)">m</text><text class="i" font-size="18.46" transform="translate(226.46 539.90) scale(1.4271 1)">L </text><text font-size="22.40" transform="translate(249.63 542.50) scale(1.5767 1)">= </text><text font-size="34.22" transform="translate(277.67 546.26) scale(0.9512 1)">+</text><text font-size="18.96" transform="translate(297.79 539.82) scale(1.4696 1)">0</text><text font-size="20.83" transform="translate(312.35 539.79) scale(1.1345 1)">.</text><text font-size="18.94" transform="translate(319.83 540.01) scale(1.2936 1)">5</text></g>
<g><text class="i" stroke="#fff" stroke-width="0.15" font-size="17.94" transform="translate(162.59 568.95) scale(1.3882 1)">p</text><text stroke="#fff" stroke-width="0.10" font-size="13.28" transform="translate(174.30 573.35) scale(1.5056 1)">0</text><text stroke="#fff" stroke-width="0.15" font-size="29.09" transform="translate(187.40 573.33) scale(1.1786 1)">/</text><text class="i" stroke="#fff" stroke-width="0.20" font-size="17.87" transform="translate(199.24 568.92) scale(1.7660 1)">m</text><text class="i" font-size="18.46" transform="translate(226.46 568.82) scale(1.4271 1)">L </text><text font-size="22.40" transform="translate(249.63 571.42) scale(1.5767 1)">= </text><text font-size="34.22" transform="translate(277.67 575.18) scale(0.9512 1)">+</text><text font-size="18.48" transform="translate(297.78 568.72) scale(1.4529 1)">1</text><text font-size="20.83" transform="translate(312.35 568.71) scale(1.1345 1)">.</text><text font-size="18.96" transform="translate(319.79 568.74) scale(1.3315 1)">0</text></g>
<g><text class="i" stroke="#fff" stroke-width="0.15" font-size="17.94" transform="translate(162.59 597.87) scale(1.3882 1)">p</text><text stroke="#fff" stroke-width="0.10" font-size="13.28" transform="translate(174.30 602.27) scale(1.5056 1)">0</text><text stroke="#fff" stroke-width="0.15" font-size="29.09" transform="translate(187.40 602.25) scale(1.1786 1)">/</text><text class="i" stroke="#fff" stroke-width="0.20" font-size="17.87" transform="translate(199.24 597.84) scale(1.7660 1)">m</text><text class="i" font-size="18.46" transform="translate(226.46 597.74) scale(1.4271 1)">L </text><text font-size="22.40" transform="translate(249.63 600.34) scale(1.5767 1)">= </text><text font-size="34.22" transform="translate(277.67 604.10) scale(0.9512 1)">+</text><text font-size="18.48" transform="translate(297.78 597.64) scale(1.4529 1)">1</text><text font-size="20.83" transform="translate(312.35 597.63) scale(1.1345 1)">.</text><text font-size="18.94" transform="translate(319.83 597.85) scale(1.2936 1)">5</text></g>
<g><text class="i" stroke="#fff" stroke-width="0.15" font-size="17.94" transform="translate(162.59 626.79) scale(1.3882 1)">p</text><text stroke="#fff" stroke-width="0.10" font-size="13.28" transform="translate(174.30 631.19) scale(1.5056 1)">0</text><text stroke="#fff" stroke-width="0.15" font-size="29.09" transform="translate(187.40 631.17) scale(1.1786 1)">/</text><text class="i" stroke="#fff" stroke-width="0.20" font-size="17.87" transform="translate(199.24 626.76) scale(1.7660 1)">m</text><text class="i" font-size="18.46" transform="translate(226.46 626.66) scale(1.4271 1)">L </text><text font-size="22.40" transform="translate(249.63 629.26) scale(1.5767 1)">= </text><text font-size="28.00" transform="translate(278.45 630.74) scale(1.1094 1)">−</text><text font-size="18.96" transform="translate(297.79 626.58) scale(1.4696 1)">0</text><text font-size="20.83" transform="translate(312.35 626.55) scale(1.1345 1)">.</text><text font-size="18.94" transform="translate(319.83 626.77) scale(1.2936 1)">5</text></g>
<g><text class="i" stroke="#fff" stroke-width="0.15" font-size="17.94" transform="translate(162.59 655.71) scale(1.3882 1)">p</text><text stroke="#fff" stroke-width="0.10" font-size="13.28" transform="translate(174.30 660.11) scale(1.5056 1)">0</text><text stroke="#fff" stroke-width="0.15" font-size="29.09" transform="translate(187.40 660.09) scale(1.1786 1)">/</text><text class="i" stroke="#fff" stroke-width="0.20" font-size="17.87" transform="translate(199.24 655.68) scale(1.7660 1)">m</text><text class="i" font-size="18.46" transform="translate(226.46 655.58) scale(1.4271 1)">L </text><text font-size="22.40" transform="translate(249.63 658.18) scale(1.5767 1)">= </text><text font-size="28.00" transform="translate(278.45 659.66) scale(1.1094 1)">−</text><text font-size="18.48" transform="translate(297.78 655.48) scale(1.4529 1)">1</text><text font-size="20.83" transform="translate(312.35 655.47) scale(1.1345 1)">.</text><text font-size="18.96" transform="translate(319.79 655.50) scale(1.3315 1)">0</text></g>
<g><text class="i" stroke="#fff" stroke-width="0.15" font-size="17.94" transform="translate(162.59 684.63) scale(1.3882 1)">p</text><text stroke="#fff" stroke-width="0.10" font-size="13.28" transform="translate(174.30 689.03) scale(1.5056 1)">0</text><text stroke="#fff" stroke-width="0.15" font-size="29.09" transform="translate(187.40 689.01) scale(1.1786 1)">/</text><text class="i" stroke="#fff" stroke-width="0.20" font-size="17.87" transform="translate(199.24 684.60) scale(1.7660 1)">m</text><text class="i" font-size="18.46" transform="translate(226.46 684.50) scale(1.4271 1)">L </text><text font-size="22.40" transform="translate(249.63 687.10) scale(1.5767 1)">= </text><text font-size="28.00" transform="translate(278.45 688.58) scale(1.1094 1)">−</text><text font-size="18.48" transform="translate(297.78 684.40) scale(1.4529 1)">1</text><text font-size="20.83" transform="translate(312.35 684.39) scale(1.1345 1)">.</text><text font-size="18.94" transform="translate(319.83 684.61) scale(1.2936 1)">5</text></g>
</g>
</svg></body></html>
